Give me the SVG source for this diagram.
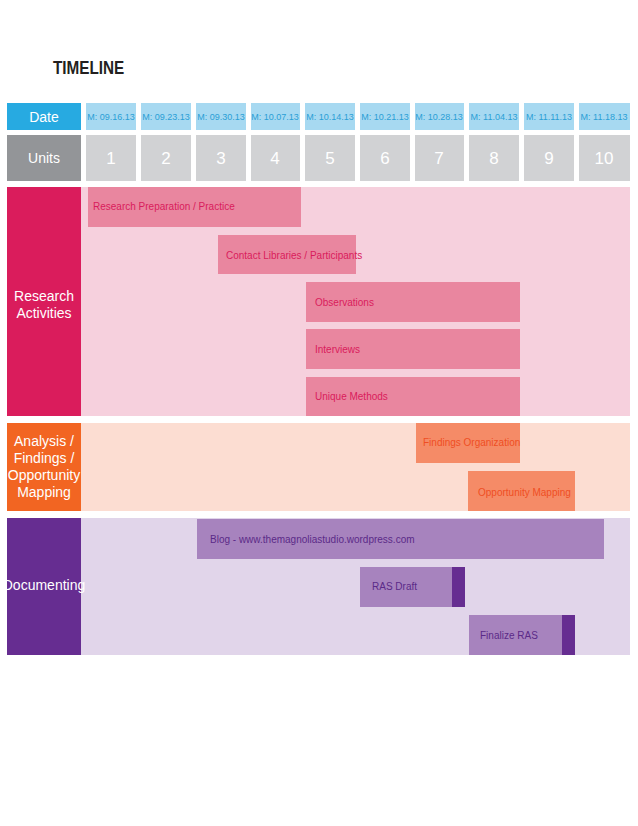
<svg xmlns="http://www.w3.org/2000/svg" width="638" height="826" viewBox="0 0 638 826">
<style>
text{font-family:"Liberation Sans",Arial,sans-serif}
.dc{fill:#a7d9f1}.dt{fill:#2a9fd6;font-size:9px;text-anchor:middle}
.uc{fill:#d1d2d4}.ut{fill:#fff;font-size:17px;text-anchor:middle}
.lab{fill:#fff;font-size:14px;text-anchor:middle}
.rb{fill:#e9869f}.rt{fill:#d91c5c;font-size:10px}
.ab{fill:#f58b67}.at{fill:#ef4e23;font-size:10px}
.db{fill:#a783be}.dk{fill:#662d91}.dtx{fill:#5b2a88;font-size:10px}
</style>
<rect width="638" height="826" fill="#fff"/>
<text x="53" y="74" font-size="18" font-weight="bold" fill="#231f20" transform="translate(53 74) scale(0.85 1) translate(-53 -74)">TIMELINE</text>
<g id="date-row">
<rect x="7" y="103" width="74" height="27" fill="#27aae1"/>
<text class="lab" x="44" y="122">Date</text>
<rect class="dc" x="86" y="103" width="50" height="27"/><text class="dt" x="111" y="120">M: 09.16.13</text>
<rect class="dc" x="141" y="103" width="50" height="27"/><text class="dt" x="166" y="120">M: 09.23.13</text>
<rect class="dc" x="196" y="103" width="50" height="27"/><text class="dt" x="221" y="120">M: 09.30.13</text>
<rect class="dc" x="251" y="103" width="49" height="27"/><text class="dt" x="275" y="120">M: 10.07.13</text>
<rect class="dc" x="305" y="103" width="50" height="27"/><text class="dt" x="330" y="120">M: 10.14.13</text>
<rect class="dc" x="360" y="103" width="50" height="27"/><text class="dt" x="385" y="120">M: 10.21.13</text>
<rect class="dc" x="415" y="103" width="49" height="27"/><text class="dt" x="439" y="120">M: 10.28.13</text>
<rect class="dc" x="469" y="103" width="50" height="27"/><text class="dt" x="494" y="120">M: 11.04.13</text>
<rect class="dc" x="524" y="103" width="50" height="27"/><text class="dt" x="549" y="120">M: 11.11.13</text>
<rect class="dc" x="579" y="103" width="51" height="27"/><text class="dt" x="604" y="120">M: 11.18.13</text>
</g>
<g id="units-row">
<rect x="7" y="135" width="74" height="46" fill="#939598"/>
<text class="lab" x="44" y="163">Units</text>
<rect class="uc" x="86" y="135" width="50" height="46"/><text class="ut" x="111" y="164">1</text>
<rect class="uc" x="141" y="135" width="50" height="46"/><text class="ut" x="166" y="164">2</text>
<rect class="uc" x="196" y="135" width="50" height="46"/><text class="ut" x="221" y="164">3</text>
<rect class="uc" x="251" y="135" width="49" height="46"/><text class="ut" x="275" y="164">4</text>
<rect class="uc" x="305" y="135" width="50" height="46"/><text class="ut" x="330" y="164">5</text>
<rect class="uc" x="360" y="135" width="50" height="46"/><text class="ut" x="385" y="164">6</text>
<rect class="uc" x="415" y="135" width="49" height="46"/><text class="ut" x="439" y="164">7</text>
<rect class="uc" x="469" y="135" width="50" height="46"/><text class="ut" x="494" y="164">8</text>
<rect class="uc" x="524" y="135" width="50" height="46"/><text class="ut" x="549" y="164">9</text>
<rect class="uc" x="579" y="135" width="51" height="46"/><text class="ut" x="604" y="164">10</text>
</g>
<g id="research">
<rect x="81" y="187" width="549" height="229" fill="#f6d0dd"/>
<rect x="7" y="187" width="74" height="229" fill="#da1c5c"/>
<text class="lab" x="44" y="301">Research</text>
<text class="lab" x="44" y="318">Activities</text>
<rect class="rb" x="88" y="187" width="213" height="40"/><text class="rt" x="93" y="210">Research Preparation / Practice</text>
<rect class="rb" x="218" y="235" width="138" height="39"/><text class="rt" x="226" y="259">Contact Libraries / Participants</text>
<rect class="rb" x="306" y="282" width="214" height="40"/><text class="rt" x="315" y="306">Observations</text>
<rect class="rb" x="306" y="329" width="214" height="40"/><text class="rt" x="315" y="353">Interviews</text>
<rect class="rb" x="306" y="377" width="214" height="39"/><text class="rt" x="315" y="400">Unique Methods</text>
</g>
<g id="analysis">
<rect x="81" y="423" width="549" height="88" fill="#fcddd2"/>
<rect x="7" y="423" width="74" height="88" fill="#f26522"/>
<text class="lab" x="44" y="446">Analysis /</text>
<text class="lab" x="44" y="463">Findings /</text>
<text class="lab" x="44" y="480">Opportunity</text>
<text class="lab" x="44" y="497">Mapping</text>
<rect class="ab" x="416" y="423" width="104" height="40"/><text class="at" x="423" y="446">Findings Organization</text>
<rect class="ab" x="468" y="471" width="107" height="40"/><text class="at" x="478" y="496">Opportunity Mapping</text>
</g>
<g id="documenting">
<rect x="81" y="518" width="549" height="137" fill="#e1d5ea"/>
<rect x="7" y="518" width="74" height="137" fill="#662d91"/>
<text class="lab" x="44" y="590">Documenting</text>
<rect class="db" x="197" y="519" width="407" height="40"/><text class="dtx" x="210" y="543">Blog - www.themagnoliastudio.wordpress.com</text>
<rect class="db" x="360" y="567" width="105" height="40"/><rect class="dk" x="452" y="567" width="13" height="40"/><text class="dtx" x="372" y="590">RAS Draft</text>
<rect class="db" x="469" y="615" width="106" height="40"/><rect class="dk" x="562" y="615" width="13" height="40"/><text class="dtx" x="480" y="639">Finalize RAS</text>
</g>
<g id="connectors"/>
</svg>
